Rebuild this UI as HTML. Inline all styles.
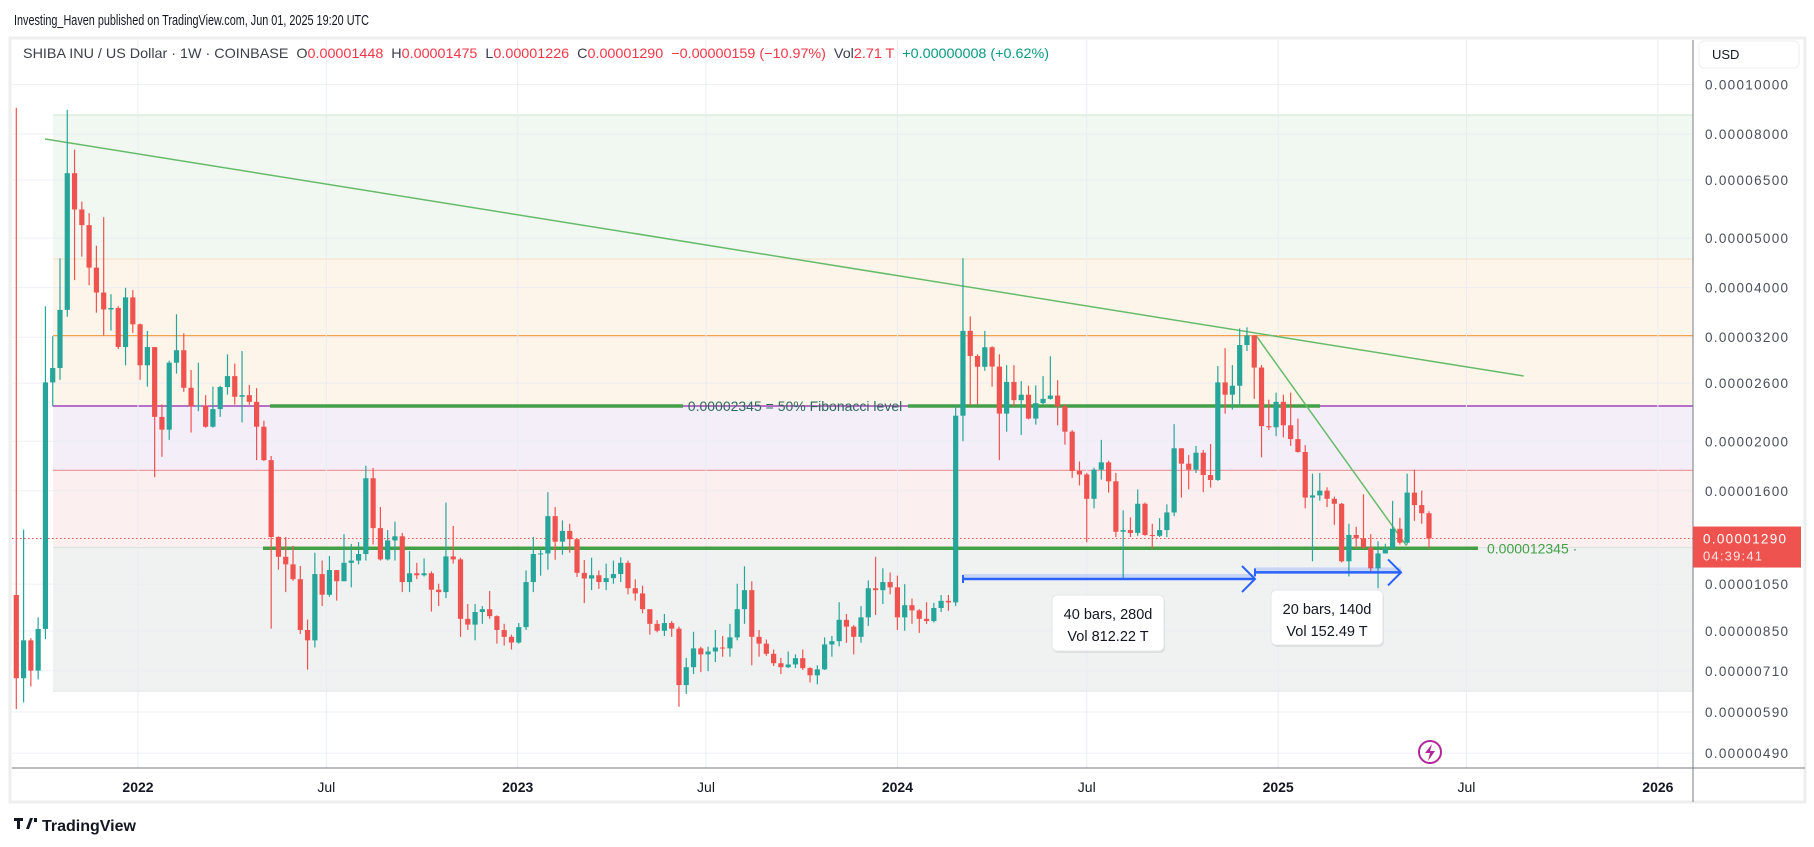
<!DOCTYPE html>
<html><head><meta charset="utf-8"><title>SHIB/USD weekly</title>
<style>
html,body{margin:0;padding:0;background:#fff;}
svg{display:block;font-family:"Liberation Sans",sans-serif;}
</style></head>
<body>
<svg id="chart" width="1814" height="847" viewBox="0 0 1814 847" xmlns="http://www.w3.org/2000/svg">
  <text x="14" y="25" font-size="15" fill="#131722" textLength="355" lengthAdjust="spacingAndGlyphs">Investing_Haven published on TradingView.com, Jun 01, 2025 19:20 UTC</text>
  <rect x="10" y="38" width="1795" height="764" fill="#fff" stroke="#eeeeee" stroke-width="3"/>
  <g id="bands"></g>
  <g id="grid"></g>
  <g id="draw"></g>
  <g id="candles"></g>
  <g id="annot"></g>
  <g id="axes"></g>
  <text x="23" y="58" font-size="14" fill="#3c404b" textLength="1026" lengthAdjust="spacingAndGlyphs">SHIBA INU / US Dollar · 1W · COINBASE&#160;&#160;O<tspan fill="#f23645">0.00001448</tspan>&#160;&#160;H<tspan fill="#f23645">0.00001475</tspan>&#160;&#160;L<tspan fill="#f23645">0.00001226</tspan>&#160;&#160;C<tspan fill="#f23645">0.00001290</tspan>&#160;&#160;<tspan fill="#f23645">−0.00000159 (−10.97%)</tspan>&#160;&#160;Vol<tspan fill="#f23645">2.71 T</tspan>&#160;&#160;<tspan fill="#089981">+0.00000008 (+0.62%)</tspan></text>
  <g>
    <rect x="1699" y="41" width="100" height="27" rx="5" fill="#fff" stroke="#eceef2"/>
    <text x="1712" y="59" font-size="13" fill="#131722">USD</text>
  </g>
  <g>
    <path d="M14 818 h9 v3 h-3 v8 h-3 v-8 h-3z M26 829 l4 -11 h3 l-4 11z M34 818 h3 v4 h-3z" fill="#131722"/>
    <text x="42" y="831" font-size="16" font-weight="bold" fill="#131722">TradingView</text>
  </g>
</svg>
<script>
// ---------- data (prices in units of 1e-8 USD) ----------
const firstOpen = 1000;
const closes = [687,815,711,858,2609,2784,3618,6703,5691,5303,
4378,3913,3625,3650,3060,3828,3390,2818,3060,2233,
2108,2851,3016,2546,2342,2350,2136,2313,2555,2684,
2445,2463,2390,2136,1837,1299,1188,1148,1074,854,
815,1099,1001,1119,1064,1156,1168,1203,1693,1352,
1174,1279,1303,1060,1103,1093,1103,1024,1013,1190,
1174,898,875,926,938,909,854,828,807,865,
1060,1203,1206,1427,1272,1335,1286,1105,1077,1093,
1060,1079,1099,1156,1031,1007,938,878,851,881,
859,666,722,786,765,775,789,786,826,938,
1022,828,803,767,735,722,731,752,719,696,
715,800,812,894,867,828,904,1031,1022,1060,
1035,904,955,933,898,889,943,974,967,2245,
3291,2939,2799,3057,2802,2266,2614,2408,2468,2216,
2376,2422,2459,2342,2089,1750,1722,1543,1760,1819,
1670,1330,1340,1323,1509,1311,1306,1340,1451,1938,
1808,1760,1900,1718,1680,2609,2468,2570,3088,3225,
2789,2142,2131,2390,2150,2020,1906,1552,1567,1601,
1543,1509,1164,1311,1291,1239,1128,1206,1233,1348,
1266,1587,1500,1446,1290];
const highs = [9002,1343,823,904,3678,3213,4566,8918,7456,5899,
5599,4833,5497,3884,3678,3997,3955,3404,3291,3060,
2362,2878,3547,3255,2759,2851,2463,2560,2570,2961,
2840,3005,2579,2542,2195,1872,1303,1299,1248,1140,
895,1210,1168,1192,1119,1316,1259,1270,1791,1773,
1487,1340,1392,1323,1219,1156,1179,1113,1052,1517,
1365,1183,960,960,951,1018,912,878,836,881,
1117,1299,1233,1590,1487,1400,1379,1286,1171,1183,
1117,1152,1168,1185,1168,1073,1043,938,893,918,
889,867,753,847,792,792,854,831,878,1052,
1138,1064,854,818,782,753,775,765,782,722,
728,826,831,968,918,873,951,1068,1188,1128,
1107,1091,1050,984,938,968,965,1000,1000,2355,
4566,3514,2961,3291,3071,2961,2820,2820,2624,2570,
2574,2684,2935,2634,2365,2104,1826,1734,1776,2013,
1833,1734,1465,1419,1610,1517,1379,1414,1505,2161,
1938,1879,1959,1924,1976,2809,3044,2820,3327,3345,
3225,2820,2413,2491,2468,2491,2216,1966,1728,1734,
1625,1558,1514,1379,1360,1575,1316,1274,1260,1529,
1416,1728,1760,1601,1459];
const lows = [598,616,662,683,820,2342,2639,3507,4137,4600,
4043,3573,3225,3297,3033,2818,3261,2639,2560,1702,
1865,2013,2714,2500,2081,2292,2127,2127,2233,2468,
2360,2178,2360,1837,1830,859,1121,1013,1066,839,
714,789,951,992,975,1064,1035,1148,1168,1255,
1168,1168,1168,1013,1013,1074,1087,928,951,986,
1152,828,854,815,878,898,803,796,782,803,
854,1013,1091,1121,1172,1199,1210,1085,964,1022,
1028,1022,1052,1060,1003,975,921,836,845,831,
828,604,640,700,706,709,739,757,757,815,
878,728,757,760,726,700,719,719,713,674,
668,713,757,793,806,765,806,870,914,960,
1003,854,851,878,843,878,883,926,931,951,
2001,2355,2362,2749,2560,1837,2089,2342,2058,2208,
2157,2365,2413,2150,1970,1696,1639,1268,1478,1683,
1587,1299,1079,1299,1306,1306,1233,1299,1299,1427,
1552,1610,1734,1590,1624,1673,2266,2308,2342,3005,
2422,1861,2104,2047,2036,1959,1900,1478,1164,1530,
1487,1372,1158,1087,1233,1233,1107,1031,1206,1226,
1255,1255,1397,1379,1233];
const priceTicks = [10000,8000,6500,5000,4000,3200,2600,2000,1600,1050,850,710,590,490];
const timeTickLabels = ["2022","Jul","2023","Jul","2024","Jul","2025","Jul","2026"];
const timeTickDates = ["2022-01-01","2022-07-01","2023-01-01","2023-07-01","2024-01-01","2024-07-01","2025-01-01","2025-07-01","2026-01-01"];
const fibLevels = [8714,4552,3222,2345,1754,1239,648];
const lastPrice = 1290;
const fib50 = 2345;
const supportLevel = 1234.5;

// ---------- scales ----------
const NS="http://www.w3.org/2000/svg";
const X0=16.3, STEP=7.282, START=Date.UTC(2021,8,6);
function xi(i){return X0+i*STEP;}
function xd(s){const d=new Date(s+"T00:00:00Z").getTime();return xi((d-START)/(7*864e5));}
function y(p){return 84.5+221.7*Math.log(10000/p);}
const PL=12, PR=1693, PB=768;
function mk(tag,attrs,parent){const e=document.createElementNS(NS,tag);for(const k in attrs)e.setAttribute(k,attrs[k]);parent.appendChild(e);return e;}
const G=id=>document.getElementById(id);
function fmt(p){return (p*1e-8).toFixed(8);}

// bands
const bandColors=["#f1f8f1","#fdf5ea","#fdf5ea","#f4eef9","#fcefef","#f0f2f2"];
for(let i=0;i<fibLevels.length-1;i++){
  const r=mk("rect",{x:53,y:y(fibLevels[i]),width:PR-53,height:y(fibLevels[i+1])-y(fibLevels[i]),fill:bandColors[i]},G("bands"));
  
  
}
const lineColors=["#d6ead6","#f5e3cc","#f7a04b","#8e24aa","#ef9a9a","#dde3e3","#e4e8e8"];
fibLevels.forEach((lv,i)=>{
  const l=mk("line",{x1:53,x2:PR,y1:y(lv),y2:y(lv),stroke:lineColors[i],"stroke-width":1.2},G("bands"));
  
  
});

// grid
priceTicks.forEach(p=>{
  const l=mk("line",{x1:PL,x2:PR,y1:y(p),y2:y(p),stroke:"#e9ecf2","stroke-width":1,opacity:0.8},G("grid"));
  
  
});
timeTickDates.forEach(d=>{
  const l=mk("line",{x1:xd(d),x2:xd(d),y1:40,y2:PB,stroke:"#e9ecf2","stroke-width":1},G("grid"));
  
  
});

// drawings
const dr=G("draw");
let e;
e=mk("line",{x1:270,x2:683,y1:y(fib50),y2:y(fib50),stroke:"#43a047","stroke-width":3.5},dr);


e=mk("line",{x1:908,x2:1320,y1:y(fib50),y2:y(fib50),stroke:"#43a047","stroke-width":3.5},dr);


e=mk("text",{x:795,y:y(fib50)+5,"font-size":14,fill:"#2e6b5e","text-anchor":"middle"},dr);
e.textContent="0.00002345 = 50% Fibonacci level";


e=mk("line",{x1:263,x2:1478,y1:y(supportLevel),y2:y(supportLevel),stroke:"#43a047","stroke-width":3.5},dr);


e=mk("text",{x:1487,y:y(supportLevel)+5,"font-size":14,fill:"#43a047"},dr);
e.textContent="0.000012345 ·";


e=mk("line",{x1:xi(3.94),y1:y(7821),x2:xi(207),y2:y(2685),stroke:"#66bb6a","stroke-width":1.5},dr);


e=mk("line",{x1:xi(170.2),y1:y(3230),x2:xi(190.9),y2:y(1250),stroke:"#66bb6a","stroke-width":1.5},dr);


e=mk("line",{x1:PL,x2:PR,y1:y(lastPrice),y2:y(lastPrice),stroke:"#ef5350","stroke-width":1,"stroke-dasharray":"1.5 2.5"},dr);



// candles
const cg=G("candles");
closes.forEach((c,i)=>{
  const o=i===0?firstOpen:closes[i-1];
  const h=Math.max(highs[i],o,c), l=Math.min(lows[i],o,c);
  const col=c>=o?"#26a69a":"#ef5350";
  const x=xi(i);
  const g=mk("g",{},cg);
  
  
  mk("line",{x1:x,x2:x,y1:y(h),y2:y(l),stroke:col,"stroke-width":1.2},g);
  const yt=y(Math.max(o,c)), yb=y(Math.min(o,c));
  mk("rect",{x:x-2.6,y:yt,width:5.2,height:Math.max(1,yb-yt),fill:col},g);
});

// annotations
const an=G("annot");
function range(x1,x2,yy,name){
  const g=mk("g",{},an);
  
  
  mk("rect",{x:x1,y:yy-5,width:x2-x1,height:5,fill:"#2962ff",opacity:0.2},g);
  mk("line",{x1:x1,x2:x2,y1:yy,y2:yy,stroke:"#2962ff","stroke-width":2.5},g);
  mk("line",{x1:x1,x2:x1,y1:yy-4,y2:yy+4,stroke:"#2962ff","stroke-width":2},g);
  mk("polyline",{points:`${x2-13},${yy-13} ${x2},${yy} ${x2-13},${yy+13}`,fill:"none",stroke:"#2962ff","stroke-width":2},g);
}
range(963,1255,579,'date-range-40-bars');
range(1255,1401,572.4,'date-range-20-bars');
function box(x,yy,w,h,l1,l2,name){
  const g=mk("g",{},an);
  
  
  mk("rect",{x:x+1,y:yy+2,width:w,height:h,rx:5,fill:"#000",opacity:0.08},g);
  mk("rect",{x:x,y:yy,width:w,height:h,rx:5,fill:"#fff",stroke:"#e3e5ea"},g);
  let t=mk("text",{x:x+w/2,y:yy+24,"font-size":14.5,fill:"#131722","text-anchor":"middle"},g);t.textContent=l1;
  t=mk("text",{x:x+w/2,y:yy+46,"font-size":14.5,fill:"#131722","text-anchor":"middle"},g);t.textContent=l2;
}
box(1052,595,112,56,"40 bars, 280d","Vol 812.22 T",'range-label-40');
box(1271,590,112,55,"20 bars, 140d","Vol 152.49 T",'range-label-20');
e=mk("g",{},an);


mk("circle",{cx:1430,cy:752,r:11,fill:"#fff",stroke:"#b3259c","stroke-width":2},e);
mk("path",{d:"M1432 744 l-7 9 h5 l-2 8 l7 -10 h-5z",fill:"#b3259c"},e);

// axes
const ax=G("axes");
e=mk("line",{x1:PR,x2:PR,y1:40,y2:802,stroke:"#787b86","stroke-width":1},ax);


e=mk("line",{x1:PL,x2:1805,y1:PB,y2:PB,stroke:"#787b86","stroke-width":1},ax);


priceTicks.forEach(p=>{
  const t=mk("text",{x:1705,y:y(p)+5,"font-size":13.5,fill:"#4a4e59","letter-spacing":"1.3"},ax);
  t.textContent=fmt(p);
  
  
});
timeTickDates.forEach((d,i)=>{
  const t=mk("text",{x:xd(d),y:792,"font-size":14,fill:"#131722","text-anchor":"middle","font-weight":timeTickLabels[i]==="Jul"?"normal":"bold"},ax);
  t.textContent=timeTickLabels[i];
  
  
});
e=mk("g",{},ax);


mk("rect",{x:PR,y:y(lastPrice)-12,width:108,height:41,fill:"#ef5350"},e);
let t1=mk("text",{x:1703,y:y(lastPrice)+5,"font-size":13.5,fill:"#fff","letter-spacing":"1.3"},e);t1.textContent=fmt(lastPrice);
let t2=mk("text",{x:1703,y:y(lastPrice)+22,"font-size":13,fill:"#fde4e4","letter-spacing":"1.2"},e);t2.textContent="04:39:41";
</script>
</body></html>
